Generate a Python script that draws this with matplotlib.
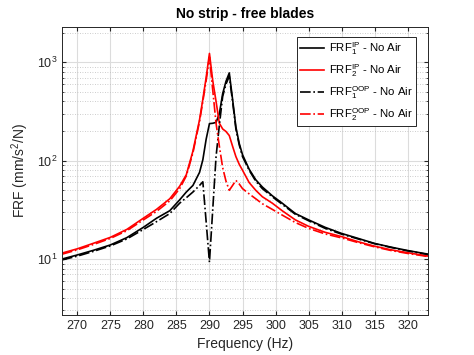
import numpy as np
import matplotlib
matplotlib.use("Agg")
import matplotlib.pyplot as plt

plt.rcParams['font.family'] = ['Liberation Sans', 'DejaVu Sans']
plt.rcParams['mathtext.fontset'] = 'custom'
plt.rcParams['mathtext.rm'] = 'Liberation Sans'
plt.rcParams['mathtext.it'] = 'Liberation Sans'

# frequency points (Hz)
freq = [267.7, 270, 272.5, 275, 277.5, 280, 282, 284, 285.5, 286.5, 287.5, 288.5,
        289, 289.5, 290, 290.5, 291, 291.5, 292, 292.5, 293, 293.5, 294, 294.5,
        295, 296, 297, 298, 299.5, 301, 303, 305, 307.5, 310, 312.5, 315,
        317.5, 320, 323.1]

# FRF magnitudes (mm/s^2/N)
frf1_ip = [10.0, 11.0, 12.3, 13.9, 16.5, 21, 26, 31, 40, 48, 56, 76,
           102, 165, 238, 240, 245, 300, 480, 640, 780, 420, 220, 150,
           115, 82, 64, 54, 44, 37, 29, 25, 21, 18.2, 16.2, 14.4,
           13.2, 12.2, 11.2]
frf2_ip = [11.5, 12.7, 14.5, 16.6, 20, 26, 32, 41, 55, 72, 125, 260,
           420, 700, 1230, 650, 400, 240, 210, 198, 180, 140, 110, 92,
           80, 60, 50, 43, 37, 31, 25, 21.5, 18.7, 16.9, 15, 13.5,
           12.4, 11.6, 10.7]
frf1_oop = [9.8, 10.7, 12.0, 13.6, 16.0, 20, 24, 29, 37, 42, 48, 56,
            61, 24, 9.3, 32, 110, 230, 450, 600, 720, 400, 210, 145,
            110, 80, 62, 52, 43, 36, 28.5, 24.5, 20.5, 17.9, 16, 14.3,
            13.1, 12.1, 11.1]
frf2_oop = [11.2, 12.4, 14.1, 16.2, 19.4, 25, 30.5, 39, 52, 70, 120, 250,
            400, 650, 1130, 520, 240, 140, 85, 62, 50, 56, 63, 58,
            52, 46, 41, 36.5, 32, 28, 23.5, 20.5, 18, 16.4, 14.7, 13.3,
            12.2, 11.4, 10.6]

labels = [r'FRF$_1^{IP}$ - No Air', r'FRF$_2^{IP}$ - No Air',
          r'FRF$_1^{OOP}$ - No Air', r'FRF$_2^{OOP}$ - No Air']

fig = plt.figure(figsize=(4.74, 3.55), dpi=100)
ax = fig.add_axes([62/474, 1 - 315/355, (428.3 - 62)/474, (315 - 26.7)/355])

ax.semilogy(freq, frf1_ip, '-', color='k', lw=1.2, label=labels[0])
ax.semilogy(freq, frf2_ip, '-', color='r', lw=1.2, label=labels[1])
ax.semilogy(freq, frf1_oop, '-.', color='k', lw=1.2, label=labels[2])
ax.semilogy(freq, frf2_oop, '-.', color='r', lw=1.2, label=labels[3])

ax.set_xlim(267.7, 323.1)
ax.set_ylim(2.7, 2300)
ax.set_xticks(np.arange(270, 321, 5))

ax.grid(True, which='major', color='#dcdcdc', lw=0.8, ls='-')
ax.grid(True, which='minor', axis='y', color='#bdbdbd', lw=0.6, ls=(0, (1, 2)))
ax.set_axisbelow(True)

ax.tick_params(which='both', direction='in', top=True, right=True,
               labelsize=9, colors='#262626')
ax.tick_params(which='major', length=3)
ax.tick_params(which='minor', length=1.5)
for s in ax.spines.values():
    s.set_color('#262626')
    s.set_linewidth(0.7)

ax.set_title('No strip - free blades', fontsize=10, fontweight='bold', pad=6)
ax.set_xlabel('Frequency (Hz)', fontsize=10, color='#262626')
ax.set_ylabel(r'FRF (mm/s$^2$/N)', fontsize=10, color='#262626')

leg = ax.legend(loc='upper right', bbox_to_anchor=(0.966, 0.965), borderaxespad=0,
                fontsize=8.2, fancybox=False, framealpha=1, edgecolor='#262626',
                handlelength=2.1, handletextpad=0.4, borderpad=0.3,
                labelspacing=0.45)
leg.get_frame().set_linewidth(0.7)

fig.savefig('out.png', dpi=100)
